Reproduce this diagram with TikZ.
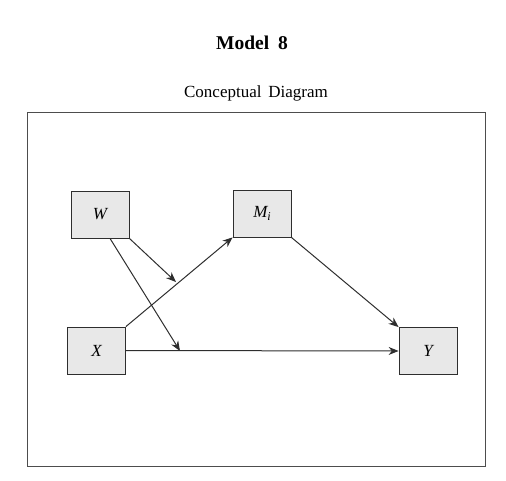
\documentclass[tikz,border=0pt]{standalone}
\usepackage{fontspec}
\setmainfont{Liberation Serif}
\usetikzlibrary{arrows.meta,calc}
\definecolor{boxfill}{HTML}{E8E8E8}
\definecolor{linecol}{HTML}{2E2E2E}
\tikzset{
  varbox/.style={draw=linecol, line width=0.8pt, fill=boxfill, minimum width=58pt, minimum height=47pt, inner sep=0pt, font=\fontsize{17}{19}\selectfont\itshape},
  conn/.style={draw=linecol, line width=1pt, -{Stealth[length=10pt,width=8pt]}},
}
\begin{document}
\begin{tikzpicture}[x=1pt,y=-1pt]
\useasboundingbox (0,0) rectangle (506,481);
\node[font=\fontsize{19.5}{22}\selectfont\bfseries] (title) at (252,43) {Model\hspace{0.45em}8};
\node[font=\fontsize{17}{20}\selectfont] (sub) at (256,93) {Conceptual\hspace{0.4em}Diagram};
\node[draw=linecol!85, line width=0.9pt, minimum width=458pt, minimum height=354pt, inner sep=0pt] (frame) at (256,289) {};
\node[varbox] (W) at (100,214.5) {W};
\node[varbox] (M) at (262,213.5) {M\raisebox{-0.4ex}{\fontsize{12}{14}\selectfont\itshape i}};
\node[varbox] (X) at (96.5,350.5) {X};
\node[varbox] (Y) at (428,351) {Y};
\coordinate (t1) at (176,282);
\coordinate (t2) at (180,351);
\draw[conn] (W.south east) -- (t1);
\draw[conn] ($(W.south west)!0.67!(W.south east)$) -- (t2);
\draw[conn] (X.north east) -- (M.south west);
\draw[conn] (M.south east) -- (Y.north west);
\draw[conn] (X.east) -- (Y.west);
\end{tikzpicture}
\end{document}
